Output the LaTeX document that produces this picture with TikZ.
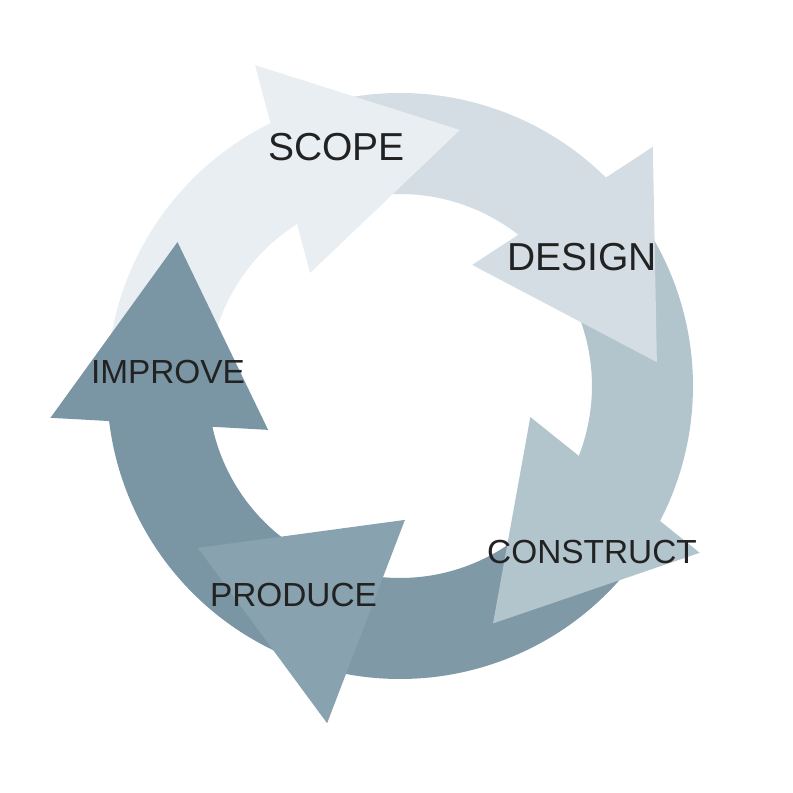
\documentclass[tikz,border=0pt]{standalone}
\usepackage{fontspec}
\setmainfont{Liberation Sans}
\usepackage{tikz}

\definecolor{scopecol}{HTML}{E8EEF1}
\definecolor{designcol}{HTML}{D3DDE3}
\definecolor{constructcol}{HTML}{B2C5CD}
\definecolor{producecol}{HTML}{89A2AF}
\definecolor{produceshaft}{HTML}{7F99A7}
\definecolor{improvecol}{HTML}{7A96A4}
\definecolor{labelcol}{HTML}{222222}

\tikzset{
  lbl/.style={text=labelcol, inner sep=0pt},
  big/.style={lbl, font=\fontsize{11.1}{13}\selectfont},
  small/.style={lbl, font=\fontsize{9.5}{11}\selectfont}
}

\begin{document}
\begin{tikzpicture}
\fill[white] (0,0) rectangle (7.93,7.93);
\useasboundingbox (0,0) rectangle (7.93,7.93);
\begin{scope}[shift={(4.00,4.07)}]
% shafts first, every one starts under the head before it
\fill[scopecol] (172:2.93) arc (172:113:2.93) -- (118:1.92) arc (118:172:1.92) -- cycle;
\fill[designcol] (105:2.93) arc (105:41.3:2.93) -- (47.4:1.92) arc (47.4:105:1.92) -- cycle;
\fill[constructcol] (32:2.93) arc (32:-30.9:2.93) -- (-24.5:1.92) arc (-24.5:32:1.92) -- cycle;
\fill[produceshaft] (-40:2.93) arc (-40:-104.5:2.93) -- (-98.5:1.92) arc (-98.5:-40:1.92) -- cycle;
\fill[improvecol] (245:2.93) arc (245:183.2:2.93) -- (188.6:1.92) arc (188.6:245:1.92) -- cycle;
% heads
\fill[scopecol] (114.3:3.52) -- (76.8:2.63) -- (128.5:1.445) -- cycle;
\fill[designcol] (43.4:3.48) -- (5.3:2.58) -- (59.2:1.41) -- cycle;
\fill[constructcol] (-29.1:3.43) -- (-68.6:2.55) -- (-13.4:1.34) -- cycle;
\fill[producecol] (-102.2:3.45) -- (-141.3:2.59) -- (-87.9:1.34) -- cycle;
\fill[improvecol] (185.2:3.51) -- (147.1:2.65) -- (198.4:1.39) -- cycle;
\end{scope}
% labels
\node[big] (scope) at (3.365,6.463) {SCOPE};
\node[big] (design) at (5.82,5.363) {DESIGN};
\node[small] (construct) at (5.92,2.405) {CONSTRUCT};
\node[small] (produce) at (2.935,1.98) {PRODUCE};
\node[small] (improve) at (1.68,4.205) {IMPROVE};
\end{tikzpicture}
\end{document}
